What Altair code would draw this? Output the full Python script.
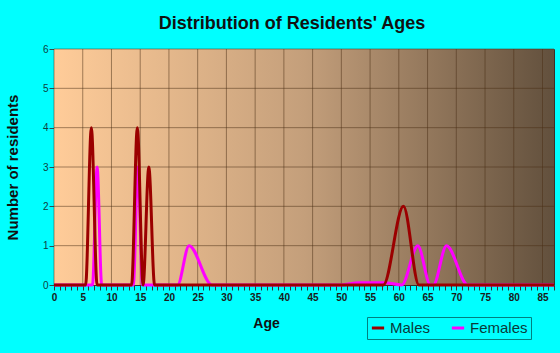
import altair as alt
import pandas as pd

# ---- data ----
male_ages = [0, 5.5, 6.5, 7.5, 13.5, 14.5, 15.5, 16.5, 17.5, 57.3, 60.8, 63.5, 87]
male_counts = [0, 0, 4, 0, 0, 4, 0, 3, 0, 0, 2, 0, 0]

female_ages = [0, 6.7, 7.5, 8.3, 13.8, 14.6, 15.4, 21.5, 23.5, 27.5, 50.0, 53.0,
               57.5, 60.5, 63.3, 65.5, 66.0, 68.3, 72.0, 87]
female_counts = [0, 0, 3, 0, 0, 3, 0, 0, 1, 0, 0, 0.06,
                 0.06, 0, 1, 0, 0, 1, 0, 0]

series_names = ["Males", "Females"]
series_colors = ["#9b0000", "#ff00ff"]
x_ticks = list(range(0, 88))
x_grid = [0, 5, 10, 15, 20, 25, 30, 35, 40, 45, 50, 55, 60, 65, 70, 75, 80, 85]
y_ticks = [0, 1, 2, 3, 4, 5, 6]

df = pd.concat([
    pd.DataFrame({"age": male_ages, "count": male_counts, "series": "Males"}),
    pd.DataFrame({"age": female_ages, "count": female_counts, "series": "Females"}),
])

FONT = "Liberation Sans"
W, H = 500, 236
X_DOMAIN = [0, 87]
Y_DOMAIN = [0, 6]
GRID = "#4a2e14"

x_scale = alt.Scale(domain=X_DOMAIN, nice=False, zero=False)
y_scale = alt.Scale(domain=Y_DOMAIN, nice=False)

x_axis = alt.Axis(
    title="Age",
    titleFont=FONT, titleFontSize=14, titleFontWeight="bold", titleColor="#111111",
    titleX=212, titleY=38, titleAlign="center", titleBaseline="middle", titleAngle=0,
    values=x_ticks,
    labelExpr="datum.value % 5 === 0 ? datum.label : ''",
    labelOverlap=False, labelFlush=False,
    labelFont=FONT, labelFontSize=10, labelFontWeight="bold", labelColor="#1a1a1a",
    labelPadding=2,
    tickSize=5, tickColor="#333333", tickWidth=1,
    domain=False, grid=False,
)
y_axis = alt.Axis(
    title="Number of residents",
    titleFont=FONT, titleFontSize=15, titleFontWeight="bold", titleColor="#111111",
    titleX=-42, titleY=118, titleAlign="center", titleBaseline="middle", titleAngle=-90,
    values=y_ticks,
    labelFont=FONT, labelFontSize=10, labelColor="#0f4040", labelPadding=1,
    tickSize=5, tickColor="#2f4f4f",
    domain=True, domainColor="#1f5a5a", domainWidth=1,
    grid=False,
)

color_enc = alt.Color(
    "series:N",
    scale=alt.Scale(domain=series_names, range=series_colors),
    legend=alt.Legend(
        title=None, orient="none", legendX=313, legendY=268, direction="horizontal",
        symbolType="stroke", symbolStrokeWidth=3, symbolSize=150,
        labelFont=FONT, labelFontSize=15, labelColor="#0a3a3a", labelOffset=4,
        columnPadding=14, padding=3,
        strokeColor="#008080", fillColor="#00ffff",
    ),
)

# gradient background of the plot area (spans the full scale domains)
bg = alt.Chart(pd.DataFrame({"k": [0]})).mark_rect(
    color=alt.LinearGradient(
        gradient="linear", x1=0, x2=1, y1=0, y2=0,
        stops=[
            alt.GradientStop(offset=0, color="#ffcc99"),
            alt.GradientStop(offset=0.5, color="#c49f7b"),
            alt.GradientStop(offset=1, color="#62503d"),
        ],
    )
).encode(
    x=alt.X(datum=X_DOMAIN[0], scale=x_scale, axis=x_axis, title="Age"),
    x2=alt.X2(datum=X_DOMAIN[1]),
    y=alt.Y(datum=Y_DOMAIN[0], scale=y_scale, axis=y_axis, title="Number of residents"),
    y2=alt.Y2(datum=Y_DOMAIN[1]),
)

vgrid = alt.Chart(pd.DataFrame({"g": x_grid})).mark_rule(
    color=GRID, opacity=0.5, strokeWidth=1
).encode(x=alt.X("g:Q", scale=x_scale, axis=x_axis, title="Age"))

hgrid = alt.Chart(pd.DataFrame({"g": y_ticks[1:]})).mark_rule(
    color=GRID, opacity=0.5, strokeWidth=1
).encode(y=alt.Y("g:Q", scale=y_scale, axis=y_axis, title="Number of residents"))

base = alt.Chart(df).mark_line(strokeWidth=3, interpolate="monotone").encode(
    x=alt.X("age:Q", scale=x_scale, axis=x_axis, title="Age"),
    y=alt.Y("count:Q", scale=y_scale, axis=y_axis, title="Number of residents"),
    color=color_enc,
)

females = base.transform_filter(alt.datum.series == "Females")
males = base.transform_filter(alt.datum.series == "Males")

chart = alt.layer(bg, vgrid, hgrid, females, males).properties(
    width=W, height=H,
    title=alt.TitleParams(
        "Distribution of Residents' Ages",
        font=FONT, fontSize=18, fontWeight="bold", color="#111111",
        anchor="middle", dx=-12, dy=4, offset=1, baseline="alphabetic", frame="group",
    ),
    autosize=alt.AutoSizeParams(type="none"),
    padding={"left": 54, "top": 49, "right": 6, "bottom": 68},
).configure(
    background="#00ffff",
).configure_view(
    stroke="#3a3028", strokeWidth=1,
)

chart.save("out.html", embed_options={"renderer": "svg", "actions": False})
